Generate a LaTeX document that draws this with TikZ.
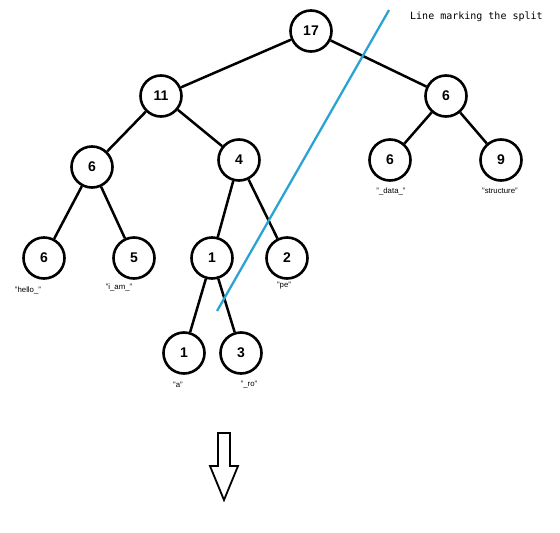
\documentclass[tikz,border=0pt]{standalone}
\usepackage{fontspec}
\setmainfont{Liberation Sans}
\setmonofont{DejaVu Sans Mono}
\usepackage{xcolor}
\usepackage{tikz}
\usetikzlibrary{arrows.meta,positioning,calc}
\definecolor{SplitBlue}{HTML}{2AA3D3}

\begin{document}
\begin{tikzpicture}[x=1pt,y=-1pt,
v/.style={circle,draw=black,fill=white,line width=2.6pt,minimum size=41pt,inner sep=0pt,font=\fontsize{14}{14}\selectfont\bfseries},
edge/.style={line width=2.5pt},
str/.style={font=\fontsize{7.8}{8}\selectfont,inner sep=0pt}]
\useasboundingbox (0,0) rectangle (560,533);
% split line goes below the nodes
\coordinate (s1) at (217,311);
\coordinate (s2) at (389,10);
\node[v] (r) at (311,31) {17};
\node[v] (l) at (161,96) {11};
\node[v] (rr) at (446,96) {6};
\node[v] (ll) at (92,167) {6};
\node[v] (lr) at (239,160) {4};
\node[v] (rrl) at (390,160) {6};
\node[v] (rrr) at (501,160) {9};
\node[v] (lll) at (44,258) {6};
\node[v] (llr) at (134,258) {5};
\node[v] (lrl) at (212,258) {1};
\node[v] (lrr) at (287,258) {2};
\node[v] (lrll) at (184,353) {1};
\node[v] (lrlr) at (241,353) {3};
\draw[edge] (r)--(l); \draw[edge] (r)--(rr);
\draw[edge] (l)--(ll); \draw[edge] (l)--(lr);
\draw[edge] (rr)--(rrl); \draw[edge] (rr)--(rrr);
\draw[edge] (ll)--(lll); \draw[edge] (ll)--(llr);
\draw[edge] (lr)--(lrl); \draw[edge] (lr)--(lrr);
\draw[edge] (lrl)--(lrll); \draw[edge] (lrl)--(lrlr);
\draw[SplitBlue,line width=2.3pt] (s1)--(s2);
% leaf strings
\node[str] (t1) at (28,290) {"hello\_"};
\node[str] (t2) at (119,287) {"i\_am\_"};
\node[str] (t3) at (284,286) {"pe"};
\node[str] (t4) at (391,191) {"\_data\_"};
\node[str] (t5) at (500,191) {"structure"};
\node[str] (t6) at (178,385) {"a"};
\node[str] (t7) at (249,385) {"\_ro"};
\node[font=\fontsize{10}{10}\selectfont\ttfamily,anchor=west,inner sep=0pt] (cap) at (410,17) {Line marking the split};
% hollow arrow down
\draw[line width=1.8pt,fill=white] (218,433)--(230,433)--(230,466)--(238,466)--(224,500)--(210,466)--(218,466)--cycle;
\end{tikzpicture}
\end{document}
